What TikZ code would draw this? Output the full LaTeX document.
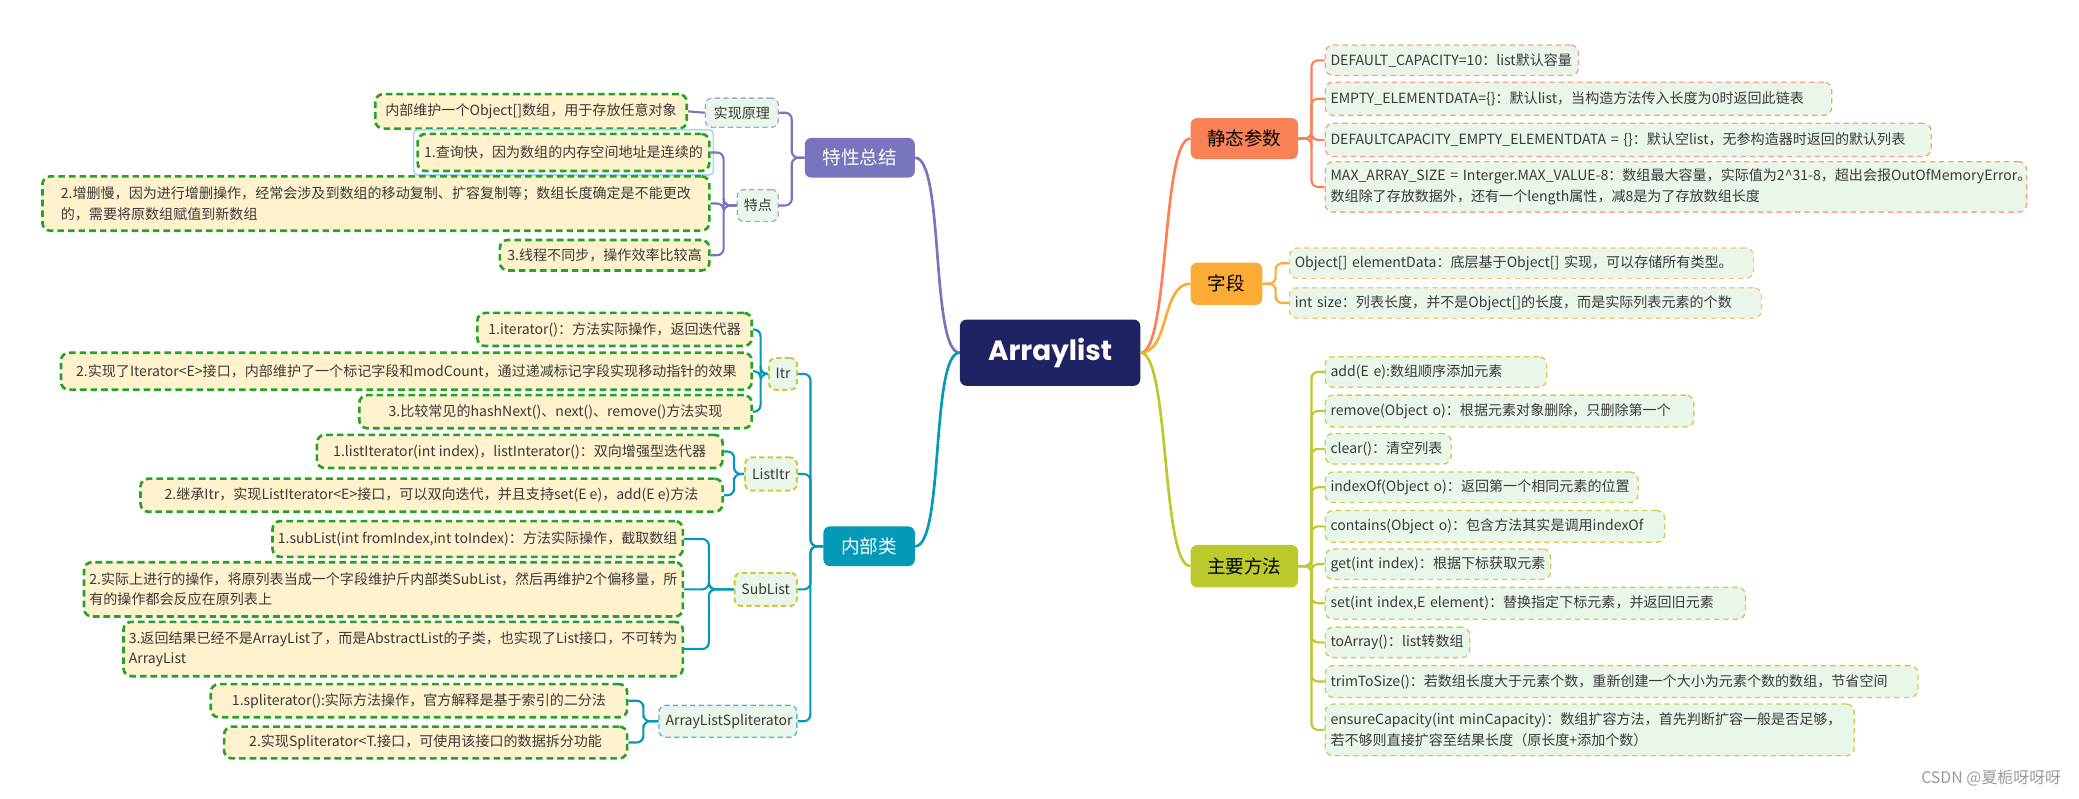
\documentclass[tikz,border=0pt]{standalone}
\usepackage{fontspec}
\setmainfont{Noto Sans CJK SC}
\newfontfamily\titlefont{Poppins}
\usetikzlibrary{calc,fit}
\definecolor{navy}{HTML}{1F2263}
\definecolor{cpurple}{HTML}{7874BE}
\definecolor{cteal}{HTML}{0499B6}
\definecolor{ccoral}{HTML}{F98156}
\definecolor{camber}{HTML}{FCAB35}
\definecolor{clime}{HTML}{BBC92C}
\definecolor{leafY}{HTML}{FFF2CC}
\definecolor{leafG}{HTML}{26A326}
\definecolor{mint}{HTML}{EAF6EA}
\definecolor{txt}{HTML}{3A3A3A}
\definecolor{bpurple}{HTML}{A9A6D8}
\definecolor{blime}{HTML}{C3CF3A}
\definecolor{bteal}{HTML}{58B7D2}
\definecolor{rcoral}{HTML}{F8A283}
\definecolor{ramber}{HTML}{FCC46E}
\definecolor{rlime}{HTML}{C6D24A}
\definecolor{selblue}{HTML}{A6D8F5}
\definecolor{wmgray}{HTML}{9A9A9A}
\newcommand{\leaffont}{\fontsize{10.6}{15.5}\selectfont}
% centred box: name, x1, y1, x2, y2, style, text
\newcommand{\mmbox}[7]{\pgfmathsetmacro\mmw{#4-#2-10}\node[text width=\mmw pt, minimum height={#5-#3}, inner xsep=5pt, inner ysep=2pt, align=center, #6] (#1) at ({(#2+#4)/2},{(#3+#5)/2}) {\mbox{#7}};}
% left leaf: grows to the left if needed
\newcommand{\mmleafL}[7]{\node[minimum width={#4-#2}, minimum height={#5-#3}, inner xsep=4pt, inner ysep=2pt, align=left, #6, anchor=east] (#1) at ({#4},{(#3+#5)/2}) {#7};}
% right leaf: text left aligned
\newcommand{\mmleafR}[8]{\pgfmathsetmacro\mmw{#4-#2-8}\node[text width=\mmw pt, minimum height={#5-#3}, inner xsep=4pt, inner ysep=2pt, align=left, #6, anchor=west] (#1) at ({#2},{(#3+#5)/2})
    {\if\relax\detokenize{#8}\relax\mbox{#7}\else\mbox{#7}\\\mbox{#8}\fi};}
\newcommand{\brL}[3]{\draw[brk=#3] (#1.west) -| ($(#1.west)!.5!(#2.east)$) |- (#2.east);}
\newcommand{\brR}[3]{\draw[brk=#3] (#1.east) -| ($(#1.east)!.5!(#2.west)$) |- (#2.west);}
\tikzset{
  rootst/.style={fill=navy, rounded corners=5pt, text=white, font=\titlefont\bfseries\fontsize{21}{24}\selectfont},
  lone/.style={fill=#1, rounded corners=5pt, font=\fontsize{14}{17}\selectfont},
  ltwo/.style={draw=#1, dash pattern=on 4pt off 2.5pt, fill=mint, rounded corners=5pt, line width=1pt, text=txt},
  leafL/.style={draw=leafG, fill=leafY, line width=2pt, dash pattern=on 5pt off 3pt, rounded corners=6pt, text=txt},
  leafR/.style={draw=#1, fill=mint, line width=1pt, dash pattern=on 4pt off 3pt, rounded corners=6pt, text=txt},
  conn/.style={draw=#1, line width=2pt},
  brk/.style={draw=#1, line width=1.6pt, rounded corners=5pt},
}
\begin{document}
\begin{tikzpicture}[x=1pt,y=-1pt,font=\leaffont]
\useasboundingbox (0,0) rectangle (1568,602);
\fill[white] (0,0) rectangle (1568,602);

% root and level 1
\mmbox{root}{724}{241}{860}{291}{rootst}{Arraylist}
\mmbox{tx}{607}{104}{690}{134}{lone=cpurple, text=white}{特性总结}
\mmbox{nb}{621}{397}{690}{427}{lone=cteal, text=white}{内部类}
\mmbox{jt}{898}{89}{979}{120}{lone=ccoral, text=black}{静态参数}
\mmbox{zd}{898}{198}{952}{230}{lone=camber, text=black}{字段}
\mmbox{zy}{898}{411}{979}{443}{lone=clime, text=black}{主要方法}

% level 2 left
\mmbox{sx}{532}{74}{587}{96}{ltwo=bpurple}{实现原理}
\mmbox{td}{556}{143}{587}{167}{ltwo=bpurple}{特点}
\mmbox{ltr}{580}{270}{601}{294}{ltwo=blime, line width=1.5pt}{Itr}
\mmbox{litr}{562}{345}{601}{370}{ltwo=blime, line width=1.5pt}{ListItr}
\mmbox{sub}{554}{432}{601}{457}{ltwo=blime, line width=1.5pt}{SubList}
\mmbox{als}{497}{532}{601}{556}{ltwo=bteal}{ArrayListSpliterator}

% leaves left
\mmleafL{sxl}{284}{71}{519}{97}{leafL}{内部维护一个Object[]数组，用于存放任意对象}
\mmleafL{q1}{316}{101}{536}{129}{leafL}{1.查询快，因为数组的内存空间地址是连续的}
\node[fit=(q1), draw=selblue, line width=1.2pt, rounded corners=3pt, inner sep=2pt] (q1sel) {};
\mmleafL{q2}{33}{133}{536}{174}{leafL}{2.增删慢，因为进行增删操作，经常会涉及到数组的移动复制、扩容复制等；数组长度确定是不能更改\\的，需要将原数组赋值到新数组}
\mmleafL{q3}{378}{181}{536}{204}{leafL}{3.线程不同步，操作效率比较高}
\mmleafL{i1}{361}{236}{568}{261}{leafL}{1.iterator()：方法实际操作，返回迭代器}
\mmleafL{i2}{47}{266}{568}{294}{leafL}{2.实现了Iterator<E>接口，内部维护了一个标记字段和modCount，通过递减标记字段实现移动指针的效果}
\mmleafL{i3}{272}{298}{568}{323}{leafL}{3.比较常见的hashNext()、next()、remove()方法实现}
\mmleafL{l1}{240}{328}{546}{353}{leafL}{1.listIterator(int index)，listInterator()：双向增强型迭代器}
\mmleafL{l2}{107}{361}{546}{386}{leafL}{2.继承Itr，实现ListIterator<E>接口，可以双向迭代，并且支持set(E e)，add(E e)方法}
\mmleafL{s1}{218}{393}{516}{420}{leafL}{1.subList(int fromIndex,int toIndex)：方法实际操作，截取数组}
\mmleafL{s2}{73}{424}{516}{465}{leafL}{2.实际上进行的操作，将原列表当成一个字段维护斤内部类SubList，然后再维护2个偏移量，所\\有的操作都会反应在原列表上}
\mmleafL{s3}{109}{469}{516}{510}{leafL}{3.返回结果已经不是ArrayList了，而是AbstractList的子类，也实现了List接口，不可转为\\ArrayList}
\mmleafL{a1}{160}{516}{474}{541}{leafL}{1.spliterator():实际方法操作，官方解释是基于索引的二分法}
\mmleafL{a2}{170}{548}{474}{572}{leafL}{2.实现Spliterator<T.接口，可使用该接口的数据拆分功能}

% leaves right
\mmleafR{c1}{999}{34}{1190}{57}{leafR=rcoral}{DEFAULT\_CAPACITY=10：list默认容量}{}
\mmleafR{c2}{999}{62}{1381}{87}{leafR=rcoral}{EMPTY\_ELEMENTDATA=\{\}：默认list，当构造方法传入长度为0时返回此链表}{}
\mmleafR{c3}{999}{93}{1456}{118}{leafR=rcoral}{DEFAULTCAPACITY\_EMPTY\_ELEMENTDATA = \{\}：默认空list，无参构造器时返回的默认列表}{}
\mmleafR{c4}{999}{122}{1528}{160}{leafR=rcoral}{MAX\_ARRAY\_SIZE = Interger.MAX\_VALUE-8：数组最大容量，实际值为2\textasciicircum 31-8，超出会报OutOfMemoryError。}{数组除了存放数据外，还有一个length属性，减8是为了存放数组长度}
\mmleafR{f1}{972}{187}{1322}{210}{leafR=ramber}{Object[] elementData：底层基于Object[] 实现，可以存储所有类型。}{}
\mmleafR{f2}{972}{217}{1328}{240}{leafR=ramber}{int size：列表长度，并不是Object[]的长度，而是实际列表元素的个数}{}
\mmleafR{m1}{999}{269}{1166}{292}{leafR=rlime}{add(E e):数组顺序添加元素}{}
\mmleafR{m2}{999}{298}{1277}{322}{leafR=rlime}{remove(Object o)：根据元素对象删除，只删除第一个}{}
\mmleafR{m3}{999}{327}{1094}{350}{leafR=rlime}{clear()：清空列表}{}
\mmleafR{m4}{999}{356}{1235}{379}{leafR=rlime}{indexOf(Object o)：返回第一个相同元素的位置}{}
\mmleafR{m5}{999}{385}{1255}{409}{leafR=rlime}{contains(Object o)：包含方法其实是调用indexOf}{}
\mmleafR{m6}{999}{414}{1169}{437}{leafR=rlime}{get(int index)：根据下标获取元素}{}
\mmleafR{m7}{999}{443}{1316}{467}{leafR=rlime}{set(int index,E element)：替换指定下标元素，并返回旧元素}{}
\mmleafR{m8}{999}{473}{1108}{496}{leafR=rlime}{toArray()：list转数组}{}
\mmleafR{m9}{999}{502}{1446}{526}{leafR=rlime}{trimToSize()：若数组长度大于元素个数，重新创建一个大小为元素个数的数组，节省空间}{}
\mmleafR{m10}{999}{531}{1398}{570}{leafR=rlime}{ensureCapacity(int minCapacity)：数组扩容方法，首先判断扩容一般是否足够，}{若不够则直接扩容至结果长度（原长度+添加个数）}

\node[text=wmgray, font=\fontsize{12}{14}\selectfont, anchor=east] (wm) at (1558,587) {CSDN @夏栀呀呀呀};

% main curves
\draw[conn=cpurple] (root.west) .. controls +(-22,0) and +(22,0) .. (tx.east);
\draw[conn=cteal] (root.west) .. controls +(-22,0) and +(22,0) .. (nb.east);
\draw[conn=ccoral] (root.east) .. controls +(22,0) and +(-22,0) .. (jt.west);
\draw[conn=camber] (root.east) .. controls +(22,0) and +(-22,0) .. (zd.west);
\draw[conn=clime] (root.east) .. controls +(22,0) and +(-22,0) .. (zy.west);

% brackets left
\brL{tx}{sx}{cpurple}
\brL{tx}{td}{cpurple}
\draw[brk=cpurple] (sx.west) -- (sxl.east);
\brL{td}{q1}{cpurple}
\brL{td}{q2}{cpurple}
\brL{td}{q3}{cpurple}
\brL{nb}{ltr}{cteal}
\brL{nb}{litr}{cteal}
\brL{nb}{sub}{cteal}
\brL{nb}{als}{cteal}
\brL{ltr}{i1}{cteal}
\brL{ltr}{i2}{cteal}
\brL{ltr}{i3}{cteal}
\brL{litr}{l1}{cteal}
\brL{litr}{l2}{cteal}
\brL{sub}{s1}{cteal}
\brL{sub}{s2}{cteal}
\brL{sub}{s3}{cteal}
\brL{als}{a1}{cteal}
\brL{als}{a2}{cteal}

% brackets right
\brR{jt}{c1}{ccoral}
\brR{jt}{c2}{ccoral}
\brR{jt}{c3}{ccoral}
\brR{jt}{c4}{ccoral}
\brR{zd}{f1}{camber}
\brR{zd}{f2}{camber}
\brR{zy}{m1}{clime}
\brR{zy}{m2}{clime}
\brR{zy}{m3}{clime}
\brR{zy}{m4}{clime}
\brR{zy}{m5}{clime}
\brR{zy}{m6}{clime}
\brR{zy}{m7}{clime}
\brR{zy}{m8}{clime}
\brR{zy}{m9}{clime}
\brR{zy}{m10}{clime}
\end{tikzpicture}
\end{document}
